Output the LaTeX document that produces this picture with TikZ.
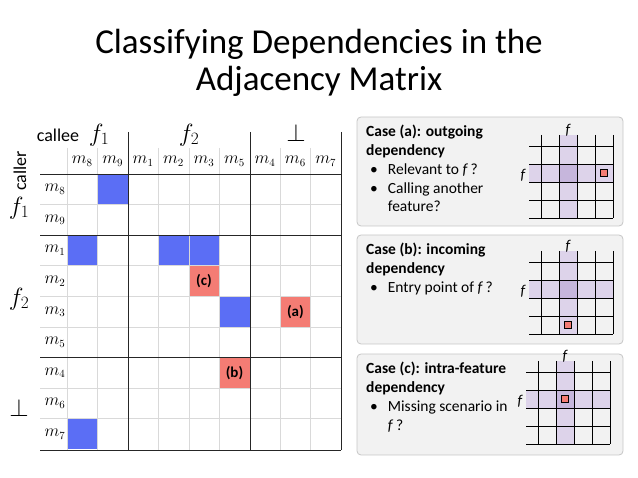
\documentclass[tikz,border=0pt]{standalone}
\usepackage{fontspec}
\setmainfont{Carlito}
\begin{document}
\begin{tikzpicture}[x=1pt,y=-1pt,
  cellb/.style={fill=blueC},
  cellr/.style={fill=redC},
  thin grid/.style={draw=gray!30,line width=0.6pt},
  group/.style={draw=black!85,line width=0.9pt},
  mlab/.style={font=\fontsize{16}{16}\selectfont},
  casebox/.style={draw=gray!45,fill=gray!10,rounded corners=4pt,line width=0.8pt},
  casetext/.style={font=\fontsize{15.5}{18.5}\selectfont,align=left,anchor=north west,inner sep=0pt},
  mini/.style={draw=black,line width=0.6pt},
  flab/.style={font=\fontsize{15}{15}\selectfont\itshape}]
\definecolor{blueC}{HTML}{5B6EF5}
\definecolor{redC}{HTML}{F47C74}
\definecolor{purL}{HTML}{DDD3EA}
\definecolor{purD}{HTML}{C6B6DC}
\useasboundingbox (0,0) rectangle (638,478);
% title
\node[font=\fontsize{35}{37}\selectfont,align=center] (title) at (319,63) {Classifying Dependencies in the\\Adjacency Matrix};
% matrix
\def\xo{67}\def\yo{174}\def\cw{30.45}\def\ch{30.6}
\foreach \r/\c in {0/1,2/0,2/3,2/4,4/5,8/0}
  \fill[cellb] (\xo+\c*\cw,\yo+\r*\ch) rectangle ++(\cw,\ch);
\foreach \r/\c/\t in {3/4/c,4/7/a,6/5/b}{
  \fill[cellr] (\xo+\c*\cw,\yo+\r*\ch) rectangle ++(\cw,\ch);
  \node[font=\fontsize{15}{15}\selectfont\bfseries] (lab\t) at (\xo+\c*\cw+0.5*\cw,\yo+\r*\ch+0.5*\ch) {(\t)};}
\foreach \i in {1,3,4,5,7,8} \draw[thin grid] (\xo+\i*\cw,148) -- (\xo+\i*\cw,450);
\foreach \j in {1,3,4,5,7,8} \draw[thin grid] (40,\yo+\j*\ch) -- (341,\yo+\j*\ch);
\draw[thin grid] (67,148) -- (67,450);
\draw[group] (128,132) -- (128,450);
\draw[group] (250,132) -- (250,450);
\draw[group] (341,132) -- (341,450);
\foreach \y in {174,235.2,357.6,450} \draw[group] (40,\y) -- (341,\y);
\foreach \n [count=\i from 0] in {8,9,1,2,3,5,4,6,7}{
  \node[mlab] (c\i) at (\xo+\i*\cw+0.5*\cw,161) {$m_{\n}$};
  \node[mlab] (r\i) at (55,\yo+\i*\ch+0.5*\ch) {$m_{\n}$};}
\node[font=\fontsize{18}{18}\selectfont] (callee) at (58,135) {callee};
\node[font=\fontsize{24}{24}\selectfont] (cf1) at (99,135) {$f_1$};
\node[font=\fontsize{24}{24}\selectfont] (cf2) at (189,135) {$f_2$};
\node[font=\fontsize{24}{24}\selectfont] (cb) at (296,133) {$\perp$};
\node[font=\fontsize{18}{18}\selectfont,rotate=90] (caller) at (20,171) {caller};
\node[font=\fontsize{24}{24}\selectfont] (rf1) at (19,208) {$f_1$};
\node[font=\fontsize{24}{24}\selectfont] (rf2) at (19,299) {$f_2$};
\node[font=\fontsize{24}{24}\selectfont] (rb) at (19,408) {$\perp$};
% case boxes
\draw[casebox] (357,117) rectangle (623,226);
\draw[casebox] (357,235) rectangle (623,344);
\draw[casebox] (357,354) rectangle (623,455);
\node[casetext] (ta) at (366,125) {\textbf{Case (a): outgoing}\\\textbf{dependency}};
\node[casetext] (tab) at (370,164) {\textbullet\hspace{10pt}Relevant to \textit{f}\,?\\\textbullet\hspace{10pt}Calling another\\\phantom{\textbullet}\hspace{10pt}feature?};
\node[casetext] (tb) at (366,243) {\textbf{Case (b): incoming}\\\textbf{dependency}};
\node[casetext] (tbb) at (370,282) {\textbullet\hspace{10pt}Entry point of \textit{f}\,?};
\node[casetext] (tc) at (366,362) {\textbf{Case (c): intra-feature}\\\textbf{dependency}};
\node[casetext] (tcb) at (370,401) {\textbullet\hspace{10pt}Missing scenario in\\\phantom{\textbullet}\hspace{10pt}\textit{f}\,?};
\foreach \X/\Y/\rc/\rr/\nm in {541/146/3/1/a,541/262/1/3/b,538/372/1/1/c}{
  \def\s{18}
  \fill[purL] (\X+\s,\Y-11) rectangle (\X+2*\s,\Y+4*\s);
  \fill[purL] (\X-12,\Y+\s) rectangle (\X+4*\s,\Y+2*\s);
  \fill[purD] (\X+\s,\Y+\s) rectangle (\X+2*\s,\Y+2*\s);
  \foreach \i in {0,...,4} \draw[mini] (\X+\i*\s,\Y-11) -- (\X+\i*\s,\Y+4*\s);
  \foreach \j in {0,...,4} \draw[mini] (\X-12,\Y+\j*\s) -- (\X+4*\s,\Y+\j*\s);
  \draw[fill=redC,line width=0.4pt] (\X+\rc*\s+0.5*\s-3.5,\Y+\rr*\s+0.5*\s-3.5) rectangle ++(7,7);
  \node[flab] (ft\nm) at (\X+1.5*\s,\Y-16) {f};
  \node[flab] (fl\nm) at (\X-18,\Y+1.6*\s) {f};
}
\end{tikzpicture}
\end{document}
